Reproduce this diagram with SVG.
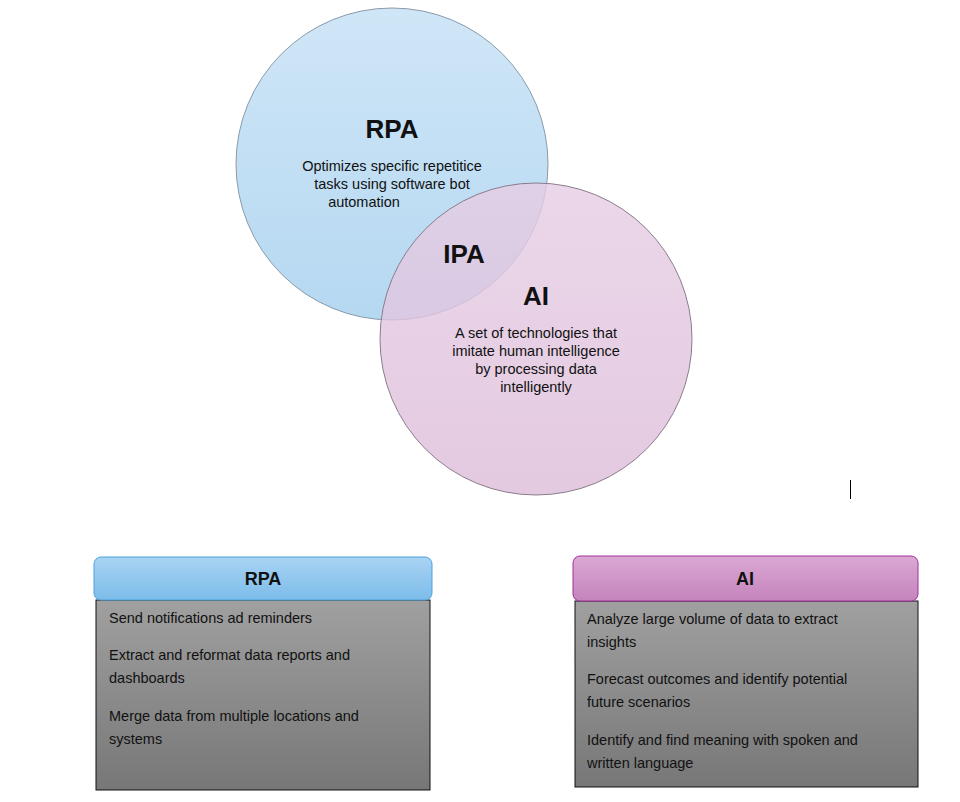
<svg xmlns="http://www.w3.org/2000/svg" width="960" height="802" viewBox="0 0 960 802">
<defs>
<linearGradient id="gb" x1="0" y1="0" x2="0" y2="1"><stop offset="0" stop-color="#cfe6f7"/><stop offset="1" stop-color="#b5d8f1"/></linearGradient>
<linearGradient id="gp" x1="0" y1="0" x2="0" y2="1"><stop offset="0" stop-color="#e6cde4"/><stop offset="1" stop-color="#ddbcd9"/></linearGradient>
<linearGradient id="hb" x1="0" y1="0" x2="0" y2="1"><stop offset="0" stop-color="#a9d3f3"/><stop offset="1" stop-color="#7cbcea"/></linearGradient>
<linearGradient id="hp" x1="0" y1="0" x2="0" y2="1"><stop offset="0" stop-color="#dba9d3"/><stop offset="1" stop-color="#c483bc"/></linearGradient>
<linearGradient id="gg" x1="0" y1="0" x2="0" y2="1"><stop offset="0" stop-color="#a0a0a0"/><stop offset="1" stop-color="#777"/></linearGradient>
</defs>
<style>
text{font-family:"Liberation Sans",Arial,sans-serif;fill:#111}
.t{font-size:26px;font-weight:bold;text-anchor:middle}
.d{font-size:14.5px;text-anchor:middle}
.h{font-size:18px;font-weight:bold;text-anchor:middle}
.b{font-size:14.5px}
</style>
<g id="rpa-circle"><circle cx="392" cy="164" r="156" fill="url(#gb)" stroke="#8a9aa8" stroke-width="1"/></g>
<g id="ai-circle"><circle cx="536" cy="339" r="156" fill="url(#gp)" fill-opacity="0.8" stroke="#8a7d8c" stroke-width="1"/></g>
<g id="rpa-text"><text class="t" x="392" y="138">RPA</text>
<text class="d" x="392" y="171">Optimizes specific repetitice</text>
<text class="d" x="392" y="189">tasks using software bot</text>
<text class="d" x="364" y="207">automation</text></g>
<g id="ipa"><text class="t" x="464" y="263">IPA</text></g>
<g id="ai-text"><text class="t" x="536" y="305">AI</text>
<text class="d" x="536" y="338">A set of technologies that</text>
<text class="d" x="536" y="356">imitate human intelligence</text>
<text class="d" x="536" y="374">by processing data</text>
<text class="d" x="536" y="392">intelligently</text></g>
<line x1="850.5" y1="480" x2="850.5" y2="499" stroke="#000"/>
<g id="rpa-box">
<rect x="96" y="600" width="334" height="190" fill="url(#gg)" stroke="#111"/>
<rect x="94" y="557" width="338" height="43" rx="7" fill="url(#hb)" stroke="#4aa3dd"/>
<text class="h" x="263" y="585">RPA</text>
<text class="b" x="109" y="623">Send notifications ad reminders</text>
<text class="b" x="109" y="660">Extract and reformat data reports and</text>
<text class="b" x="109" y="683">dashboards</text>
<text class="b" x="109" y="721">Merge data from multiple locations and</text>
<text class="b" x="109" y="744">systems</text>
</g>
<g id="ai-box">
<rect x="575" y="601" width="343" height="186" fill="url(#gg)" stroke="#111"/>
<rect x="573" y="556" width="345" height="45" rx="7" fill="url(#hp)" stroke="#a0309a"/>
<text class="h" x="745" y="585">AI</text>
<text class="b" x="587" y="624">Analyze large volume of data to extract</text>
<text class="b" x="587" y="647">insights</text>
<text class="b" x="587" y="684">Forecast outcomes and identify potential</text>
<text class="b" x="587" y="707">future scenarios</text>
<text class="b" x="587" y="745">Identify and find meaning with spoken and</text>
<text class="b" x="587" y="768">written language</text>
</g>
</svg>
